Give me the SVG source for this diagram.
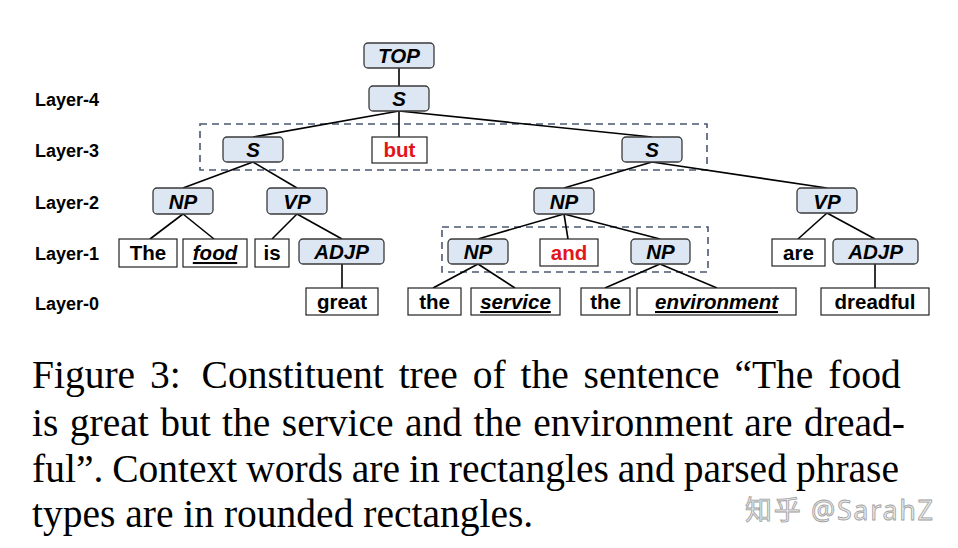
<svg xmlns="http://www.w3.org/2000/svg" width="958" height="548" viewBox="0 0 958 548">
<style>
.ph{fill:#dde7f3;stroke:#3a3a3a;stroke-width:1.3}
.wd{fill:#ffffff;stroke:#222222;stroke-width:1.2}
.dash{fill:none;stroke:#4a5870;stroke-width:1.6;stroke-dasharray:7 5}
.edge{stroke:#000000;stroke-width:1.6;fill:none}
.pt{font-family:"Liberation Sans",Arial,sans-serif;font-size:20.5px;font-weight:bold;font-style:italic;text-anchor:middle;fill:#000}
.wt{font-family:"Liberation Sans",Arial,sans-serif;font-size:20.5px;font-weight:bold;text-anchor:middle;fill:#000}
.it{font-style:italic;text-decoration:underline}
.red{fill:#e3151a}
.lay{font-family:"Liberation Sans",Arial,sans-serif;font-size:18px;font-weight:bold;fill:#000}
.cap{font-family:"Liberation Serif","Times New Roman",serif;font-size:39.5px;fill:#000}
.wm{font-family:"Noto Sans","Noto Sans CJK SC",sans-serif;font-size:27px;fill:#e8e8e8;stroke:#a0a0a0;stroke-width:0.8}
</style>

<g id="layer-labels">
<text class="lay" x="35" y="106">Layer-4</text>
<text class="lay" x="35" y="157">Layer-3</text>
<text class="lay" x="35" y="209">Layer-2</text>
<text class="lay" x="35" y="260">Layer-1</text>
<text class="lay" x="35" y="310">Layer-0</text>
</g>

<g id="groups">
<rect class="dash" x="200" y="124" width="507" height="46"/>
<rect class="dash" x="442" y="227" width="266" height="45"/>
</g>

<g id="connectors">
<line class="edge" x1="399" y1="68" x2="399" y2="86"/>
<line class="edge" x1="399" y1="111" x2="253" y2="137"/>
<line class="edge" x1="399" y1="111" x2="399" y2="137"/>
<line class="edge" x1="399" y1="111" x2="652" y2="137"/>
<line class="edge" x1="253" y1="162" x2="183" y2="188"/>
<line class="edge" x1="253" y1="162" x2="297" y2="188"/>
<line class="edge" x1="652" y1="162" x2="564" y2="188"/>
<line class="edge" x1="652" y1="162" x2="827" y2="188"/>
<line class="edge" x1="183" y1="214" x2="150" y2="239"/>
<line class="edge" x1="183" y1="214" x2="214" y2="239"/>
<line class="edge" x1="297" y1="214" x2="272" y2="239"/>
<line class="edge" x1="297" y1="214" x2="342" y2="239"/>
<line class="edge" x1="342" y1="264" x2="342" y2="288"/>
<line class="edge" x1="564" y1="214" x2="478" y2="239"/>
<line class="edge" x1="564" y1="214" x2="568" y2="239"/>
<line class="edge" x1="564" y1="214" x2="660" y2="239"/>
<line class="edge" x1="827" y1="213" x2="798" y2="239"/>
<line class="edge" x1="827" y1="213" x2="875" y2="239"/>
<line class="edge" x1="875" y1="264" x2="875" y2="288"/>
<line class="edge" x1="478" y1="264" x2="433" y2="288"/>
<line class="edge" x1="478" y1="264" x2="515" y2="288"/>
<line class="edge" x1="660" y1="264" x2="605" y2="288"/>
<line class="edge" x1="660" y1="264" x2="717" y2="288"/>
</g>

<g id="n-top"><rect class="ph" x="364" y="43" width="70" height="25" rx="4"/><text class="pt" x="399" y="63">TOP</text></g>
<g id="n-s4"><rect class="ph" x="369" y="86" width="60" height="25" rx="4"/><text class="pt" x="399" y="106">S</text></g>
<g id="n-s3l"><rect class="ph" x="223" y="137" width="60" height="25" rx="4"/><text class="pt" x="253" y="157">S</text></g>
<g id="n-but"><rect class="wd" x="372" y="137" width="55" height="26"/><text class="wt red" x="399.5" y="157">but</text></g>
<g id="n-s3r"><rect class="ph" x="622" y="137" width="60" height="25" rx="4"/><text class="pt" x="652" y="157">S</text></g>

<g id="n-np2l"><rect class="ph" x="153" y="188" width="60" height="26" rx="4"/><text class="pt" x="183" y="208.5">NP</text></g>
<g id="n-vp2l"><rect class="ph" x="267" y="188" width="60" height="26" rx="4"/><text class="pt" x="297" y="208.5">VP</text></g>
<g id="n-np2m"><rect class="ph" x="534" y="188" width="60" height="26" rx="4"/><text class="pt" x="564" y="208.5">NP</text></g>
<g id="n-vp2r"><rect class="ph" x="797" y="188" width="60" height="25" rx="4"/><text class="pt" x="827" y="208.5">VP</text></g>

<g id="n-the1"><rect class="wd" x="119" y="239" width="58" height="28"/><text class="wt" x="148" y="260">The</text></g>
<g id="n-food"><rect class="wd" x="183" y="239" width="64" height="28"/><text class="wt it" x="215" y="260">food</text></g>
<g id="n-is"><rect class="wd" x="255" y="239" width="34" height="28"/><text class="wt" x="272" y="260">is</text></g>
<g id="n-adjp1"><rect class="ph" x="299" y="239" width="85" height="25" rx="4"/><text class="pt" x="341.5" y="259">ADJP</text></g>
<g id="n-np1a"><rect class="ph" x="448" y="239" width="60" height="25" rx="4"/><text class="pt" x="478" y="259">NP</text></g>
<g id="n-and"><rect class="wd" x="540" y="239" width="58" height="27"/><text class="wt red" x="569" y="260">and</text></g>
<g id="n-np1b"><rect class="ph" x="631" y="239" width="59" height="25" rx="4"/><text class="pt" x="660.5" y="259">NP</text></g>
<g id="n-are"><rect class="wd" x="772" y="239" width="53" height="27"/><text class="wt" x="798.5" y="260">are</text></g>
<g id="n-adjp2"><rect class="ph" x="833" y="239" width="85" height="25" rx="4"/><text class="pt" x="875.5" y="259">ADJP</text></g>

<g id="n-great"><rect class="wd" x="306" y="288" width="72" height="27"/><text class="wt" x="342" y="309">great</text></g>
<g id="n-the2"><rect class="wd" x="408" y="288" width="53" height="27"/><text class="wt" x="434.5" y="309">the</text></g>
<g id="n-service"><rect class="wd" x="471" y="288" width="89" height="27"/><text class="wt it" x="515.5" y="309">service</text></g>
<g id="n-the3"><rect class="wd" x="581" y="288" width="49" height="27"/><text class="wt" x="605.5" y="309">the</text></g>
<g id="n-env"><rect class="wd" x="637" y="288" width="159" height="27"/><text class="wt it" x="716.5" y="309">environment</text></g>
<g id="n-dreadful"><rect class="wd" x="821" y="288" width="108" height="27"/><text class="wt" x="875" y="309">dreadful</text></g>

<g id="caption">
<text class="cap" x="32" y="388" word-spacing="5">Figure 3:<tspan dx="6"> Constituent tree of the sentence “The food</tspan></text>
<text class="cap" x="32" y="436" word-spacing="1.57">is great but the service and the environment are dread-</text>
<text class="cap" x="32" y="482" word-spacing="-0.9">ful”. Context words are in rectangles and parsed phrase</text>
<text class="cap" x="32" y="527">types are in rounded rectangles.</text>
</g>

<g id="watermark">
<text class="wm" x="745" y="520" textLength="188" lengthAdjust="spacing">知乎 @SarahZ</text>
</g>
</svg>
